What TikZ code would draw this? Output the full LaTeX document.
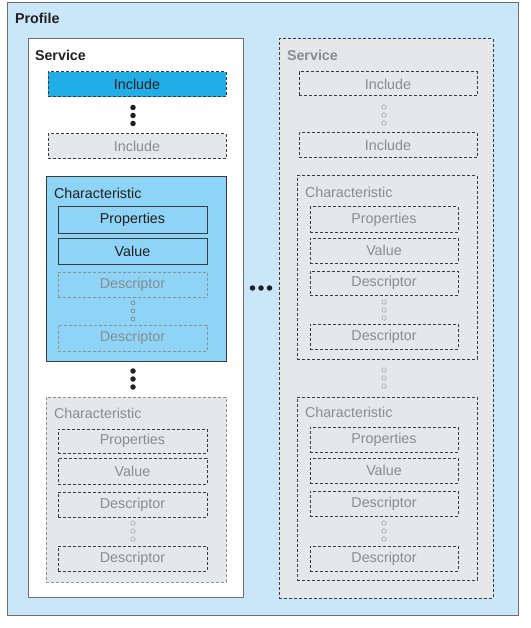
\documentclass[tikz,border=0pt]{standalone}
\usepackage{fontspec}
\setmainfont{Liberation Sans}
\definecolor{profilefill}{HTML}{C9E7F8}
\definecolor{frame}{HTML}{6D6E71}
\definecolor{inclcyan}{HTML}{1FAEE5}
\definecolor{charblue}{HTML}{8DD4F6}
\definecolor{grayfill}{HTML}{E6E7E8}
\definecolor{graytext}{HTML}{8A8C8E}
\definecolor{darktext}{HTML}{231F20}
\definecolor{dashdark}{HTML}{3A3A3C}
\definecolor{dashgray}{HTML}{8F9092}
\tikzset{
  every node/.style={font=\fontsize{14.3}{17}\selectfont, inner sep=0pt, outer sep=0pt},
  dsh/.style={dash pattern=on 3pt off 2pt},
  bx/.style={anchor=north west, line width=1pt, text=darktext},
  profilebox/.style={bx, fill=profilefill, draw=frame},
  servicebox/.style={bx, fill=white, draw=frame},
  gservicebox/.style={bx, fill=grayfill, draw=dashdark, dsh},
  inclbox/.style={bx, fill=inclcyan, draw=dashdark, dsh},
  gbox/.style={bx, fill=grayfill, draw=dashdark, dsh, text=graytext},
  charbox/.style={bx, fill=charblue, draw=dashdark},
  gcharbox/.style={bx, fill=grayfill, draw=dashgray, dsh},
  gcharboxd/.style={bx, fill=grayfill, draw=dashdark, dsh},
  sbox/.style={bx, fill=charblue, draw=dashdark},
  dbox/.style={bx, fill=charblue, draw=dashgray, dsh, text=graytext},
  title/.style={anchor=west, font=\fontsize{14.3}{17}\selectfont\bfseries, text=darktext},
  gtitle/.style={title, text=graytext},
  clabel/.style={anchor=west, text=darktext},
  gclabel/.style={anchor=west, text=graytext},
  fdot/.style={circle, fill=darktext, minimum size=5.5pt},
  odot/.style={circle, draw=graytext, line width=0.8pt, minimum size=4pt},
  gdot/.style={circle, draw=graytext, line width=0.8pt, dash pattern=on 1pt off 1pt, minimum size=4.5pt},
}
\newcommand\bxn[6]{\node[#1, minimum width=#4pt, minimum height=#5pt] (#2) at #3 {#6};}
\begin{document}
\begin{tikzpicture}[x=1pt,y=-1pt]
\useasboundingbox (0,0) rectangle (530,628);
% Profile
\bxn{profilebox}{profile}{(7,3)}{511}{612}{}
\node[title] (profilelbl) at (15,18) {Profile};
% Left service
\bxn{servicebox}{svcL}{(28,39)}{215}{558}{}
\node[title] (svcLlbl) at (35,55) {Service};
\bxn{inclbox}{incL1}{(48,72)}{178}{25}{Include}
\node[fdot] (dL1) at (133,107.5) {};
\node[fdot] (dL2) at (133,115.5) {};
\node[fdot] (dL3) at (133,123.5) {};
\bxn{gbox}{incL2}{(48,134)}{178}{25}{Include}
% Left characteristic 1
\bxn{charbox}{chL1}{(46,177)}{180}{184}{}
\node[clabel] (chL1lbl) at (54,193) {Characteristic};
\bxn{sbox}{prL1}{(58,207)}{149}{26}{Properties}
\bxn{sbox}{vaL1}{(58,238)}{149}{26}{Value}
\bxn{dbox}{deL1a}{(58,272)}{149}{25}{Descriptor}
\node[odot] (oL1) at (133,303) {};
\node[odot] (oL2) at (133,311) {};
\node[odot] (oL3) at (133,319) {};
\bxn{dbox}{deL1b}{(58,325)}{149}{26}{Descriptor}
\node[fdot] (cL1) at (133,371) {};
\node[fdot] (cL2) at (133,379) {};
\node[fdot] (cL3) at (133,387) {};
% Left characteristic 2
\bxn{gcharbox}{chL2}{(46,397)}{180}{185}{}
\node[gclabel] (chL2lbl) at (54,413) {Characteristic};
\bxn{gbox}{prL2}{(58,429)}{149}{24}{Properties}
\bxn{gbox}{vaL2}{(58,458)}{149}{26}{Value}
\bxn{gbox}{deL2a}{(58,492)}{149}{25}{Descriptor}
\node[gdot] (gL1) at (133,523) {};
\node[gdot] (gL2) at (133,531) {};
\node[gdot] (gL3) at (133,539) {};
\bxn{gbox}{deL2b}{(58,546)}{149}{25}{Descriptor}
% ellipsis between services
\node[fdot] (e1) at (252.5,288) {};
\node[fdot] (e2) at (261,288) {};
\node[fdot] (e3) at (269.5,288) {};
% Right service
\bxn{gservicebox}{svcR}{(279,39)}{214}{559}{}
\node[gtitle] (svcRlbl) at (287,55) {Service};
\bxn{gbox}{incR1}{(299,72)}{178}{24}{Include}
\node[gdot] (dR1) at (384,107) {};
\node[gdot] (dR2) at (384,115) {};
\node[gdot] (dR3) at (384,123) {};
\bxn{gbox}{incR2}{(299,133)}{178}{25}{Include}
% Right characteristic 1
\bxn{gcharboxd}{chR1}{(297,176)}{180}{183}{}
\node[gclabel] (chR1lbl) at (305,192) {Characteristic};
\bxn{gbox}{prR1}{(310,207)}{148}{25}{Properties}
\bxn{gbox}{vaR1}{(310,238)}{148}{25}{Value}
\bxn{gbox}{deR1a}{(310,271)}{148}{24}{Descriptor}
\node[gdot] (gR1) at (384,302) {};
\node[gdot] (gR2) at (384,310) {};
\node[gdot] (gR3) at (384,318) {};
\bxn{gbox}{deR1b}{(310,324)}{148}{25}{Descriptor}
\node[gdot] (cR1) at (384,370) {};
\node[gdot] (cR2) at (384,378) {};
\node[gdot] (cR3) at (384,386) {};
% Right characteristic 2
\bxn{gcharboxd}{chR2}{(297,397)}{180}{183}{}
\node[gclabel] (chR2lbl) at (305,412) {Characteristic};
\bxn{gbox}{prR2}{(310,427)}{148}{25}{Properties}
\bxn{gbox}{vaR2}{(310,458)}{148}{25}{Value}
\bxn{gbox}{deR2a}{(310,491)}{148}{25}{Descriptor}
\node[gdot] (hR1) at (384,523) {};
\node[gdot] (hR2) at (384,531) {};
\node[gdot] (hR3) at (384,539) {};
\bxn{gbox}{deR2b}{(310,546)}{148}{25}{Descriptor}
\end{tikzpicture}
\end{document}
